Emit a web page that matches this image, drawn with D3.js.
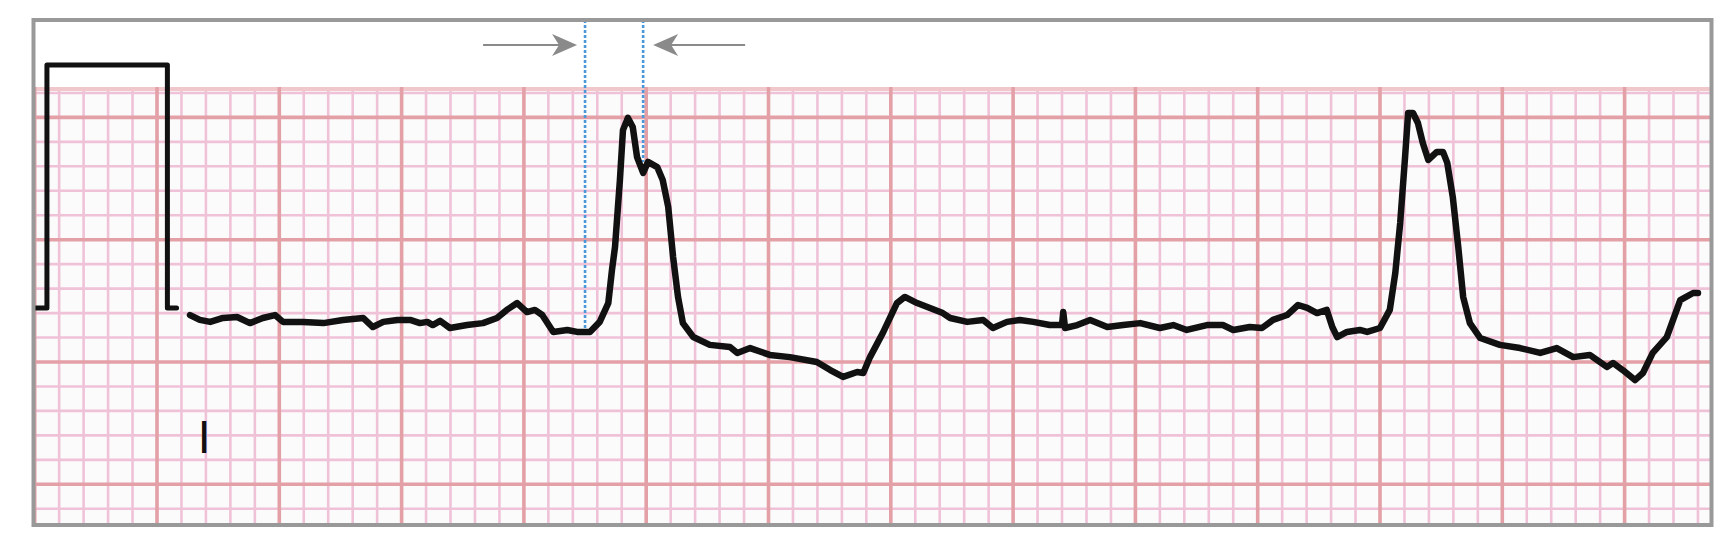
<!DOCTYPE html>
<html lang="en">
<head>
    <meta charset="UTF-8">
    <title>ECG strip, lead I</title>
    <script type="text/javascript" src="https://cdn.jsdelivr.net/npm/d3@7"></script>
    <style type="text/css">
        body { margin: 0; background: #fff; }
        svg { display: block; }
    </style>
</head>
<body>
    <script type="text/javascript">

        var w = 1735;
        var h = 542;

        // time in ms, amplitude in mV (25 mm/s, 10 mm/mV paper)
        var calTime = [2, 20, 20, 217, 217, 232];
        var calVolt = [0.221, 0.221, 1.214, 1.214, 0.221, 0.221];

        var traceTime = [254, 270, 287, 308, 331, 352, 373, 393, 406, 439,
                         472, 504, 537, 553, 570, 593, 614, 630, 642, 651,
                         663, 679, 707, 733, 756, 772, 789, 805, 818, 830,
                         848, 871, 887, 908, 924, 938, 944, 949,
                         957, 962, 970, 978,
                         985, 995, 1003, 1018, 1027, 1036, 1044, 1052, 1060, 1077,
                         1104, 1137, 1149, 1170, 1202, 1235, 1279, 1301, 1322, 1345,
                         1355, 1366, 1387, 1410, 1423, 1443, 1464, 1485, 1497, 1525,
                         1551, 1567, 1590, 1611, 1633, 1660, 1680, 1682, 1685, 1705,
                         1726, 1754, 1780, 1808, 1840, 1862, 1884, 1917, 1943, 1960,
                         1987, 2007, 2025, 2048, 2066, 2081, 2097, 2113, 2122, 2130,
                         2146, 2167, 2179, 2200, 2216, 2225, 2233, 2241, 2246, 2254,
                         2262, 2270, 2279, 2293, 2303, 2310, 2319, 2328, 2336, 2347,
                         2364, 2396, 2429, 2462, 2489, 2516, 2543, 2571, 2581, 2597,
                         2617, 2630, 2646, 2669, 2691, 2712, 2720];
        var traceVolt = [0.192, 0.172, 0.164, 0.180, 0.184, 0.159, 0.180, 0.192, 0.164, 0.164,
                         0.159, 0.172, 0.180, 0.143, 0.164, 0.172, 0.172, 0.159, 0.164, 0.151,
                         0.168, 0.139, 0.151, 0.159, 0.180, 0.213, 0.241, 0.204, 0.213, 0.192,
                         0.123, 0.131, 0.123, 0.123, 0.164, 0.241, 0.376, 0.470,
                         0.744, 0.948, 0.998, 0.961,
                         0.838, 0.773, 0.818, 0.797, 0.744, 0.634, 0.429, 0.266, 0.159, 0.102,
                         0.070, 0.061, 0.037, 0.057, 0.029, 0.020, 0.000, -0.033, -0.061, -0.041,
                         -0.045, 0.020, 0.119, 0.241, 0.266, 0.241, 0.221, 0.200, 0.180, 0.164,
                         0.172, 0.139, 0.164, 0.172, 0.164, 0.151, 0.151, 0.204, 0.139, 0.151,
                         0.172, 0.143, 0.151, 0.159, 0.139, 0.151, 0.131, 0.151, 0.151, 0.131,
                         0.143, 0.139, 0.172, 0.192, 0.233, 0.221, 0.200, 0.213, 0.143, 0.102,
                         0.123, 0.131, 0.123, 0.139, 0.213, 0.364, 0.568, 0.838, 1.018, 1.018,
                         0.977, 0.895, 0.826, 0.859, 0.859, 0.814, 0.675, 0.470, 0.266, 0.159,
                         0.098, 0.070, 0.057, 0.037, 0.057, 0.020, 0.029, -0.020, -0.004, -0.033,
                         -0.074, -0.045, 0.037, 0.102, 0.253, 0.282, 0.282];

        // caliper marks (ms) and lead name
        var caliperTimes = [900, 995];
        var caliperEnds = [0.123, 0.818];
        var leadName = "I";
        var leadPos = [277, -0.372];

        var frame = { x: 33.5, y: 20, w: 1678, h: 505 };
        var paperTop = 87;

        var x = d3.scaleLinear().domain([0, 1000]).range([34.7, 34.7 + 611.5]);
        var y = d3.scaleLinear().domain([0, 1]).range([362, 362 - 244.6]);

        var tMax = x.invert(frame.x + frame.w);
        var vMin = y.invert(frame.y + frame.h);
        var vMax = 1.1;

        var svg = d3.select("body")
                    .append("svg")
                    .attr("width", w)
                    .attr("height", h);

        svg.append("rect")
            .attr("width", w).attr("height", h)
            .attr("fill", "#ffffff");

        svg.append("rect")
            .attr("x", x(0)).attr("y", paperTop)
            .attr("width", frame.x + frame.w - x(0))
            .attr("height", frame.y + frame.h - paperTop)
            .attr("fill", "#fbfbfb");

        // small boxes every 40 ms / 0.1 mV, big every 200 ms / 0.5 mV
        var vTicks = d3.range(0, tMax, 40);
        var hTicks = d3.range(Math.ceil(vMin * 10), Math.round(vMax * 10) + 1).map(function(d) { return d / 10; });

        function isBigT(d) { return d % 200 === 0; }
        function isBigV(d) { return Math.abs(Math.round(d * 10)) % 5 === 0; }

        var grid = svg.append("g");

        grid.selectAll("line.thinv")
            .data(vTicks.filter(function(d) { return !isBigT(d); }))
            .enter().append("line")
            .attr("x1", function(d) { return x(d); })
            .attr("x2", function(d) { return x(d); })
            .attr("y1", paperTop).attr("y2", frame.y + frame.h)
            .attr("stroke", "#efc2d8").attr("stroke-width", 2.6);

        grid.selectAll("line.thinh")
            .data(hTicks.filter(function(d) { return !isBigV(d); }))
            .enter().append("line")
            .attr("x1", x(0)).attr("x2", frame.x + frame.w)
            .attr("y1", function(d) { return y(d); })
            .attr("y2", function(d) { return y(d); })
            .attr("stroke", "#efc2d8").attr("stroke-width", 2.6);

        grid.append("line")
            .attr("x1", x(0)).attr("x2", frame.x + frame.w)
            .attr("y1", paperTop + 2).attr("y2", paperTop + 2)
            .attr("stroke", "#f0c8cc").attr("stroke-width", 4);

        grid.selectAll("line.bigv")
            .data(vTicks.filter(isBigT))
            .enter().append("line")
            .attr("x1", function(d) { return x(d); })
            .attr("x2", function(d) { return x(d); })
            .attr("y1", paperTop).attr("y2", frame.y + frame.h)
            .attr("stroke", "#e3a0a6").attr("stroke-width", 3.6);

        grid.selectAll("line.bigh")
            .data(hTicks.filter(isBigV))
            .enter().append("line")
            .attr("x1", x(0)).attr("x2", frame.x + frame.w)
            .attr("y1", function(d) { return y(d); })
            .attr("y2", function(d) { return y(d); })
            .attr("stroke", "#e3a0a6").attr("stroke-width", 3.6);

        // calipers
        svg.selectAll("line.caliper")
            .data(caliperTimes)
            .enter().append("line")
            .attr("x1", function(d) { return x(d); })
            .attr("x2", function(d) { return x(d); })
            .attr("y1", frame.y)
            .attr("y2", function(d, i) { return y(caliperEnds[i]); })
            .attr("stroke", "#4a97da")
            .attr("stroke-width", 2.6)
            .attr("stroke-dasharray", "3,2");

        var arrowY = 45;
        var arrows = [
            { from: x(caliperTimes[0]) - 102, to: x(caliperTimes[0]) - 8 },
            { from: x(caliperTimes[1]) + 102, to: x(caliperTimes[1]) + 10 }
        ];

        svg.selectAll("line.arrow")
            .data(arrows)
            .enter().append("line")
            .attr("x1", function(d) { return d.from; })
            .attr("x2", function(d) { return d.to + (d.to > d.from ? -12 : 12); })
            .attr("y1", arrowY).attr("y2", arrowY)
            .attr("stroke", "#8a8a8a").attr("stroke-width", 2);

        svg.selectAll("path.arrowhead")
            .data(arrows)
            .enter().append("path")
            .attr("d", function(d) {
                var s = d.to > d.from ? 1 : -1;
                return "M" + d.to + "," + arrowY +
                       "L" + (d.to - s * 25) + "," + (arrowY - 11) +
                       "L" + (d.to - s * 18) + "," + arrowY +
                       "L" + (d.to - s * 25) + "," + (arrowY + 11) + "Z";
            })
            .attr("fill", "#8a8a8a");

        var line = d3.line()
            .x(function(d) { return x(d[0]); })
            .y(function(d) { return y(d[1]); });

        svg.append("path")
            .datum(d3.zip(calTime, calVolt))
            .attr("d", line)
            .attr("fill", "none")
            .attr("stroke", "#111")
            .attr("stroke-width", 5)
            .attr("stroke-linejoin", "round")
            .attr("stroke-linecap", "round");

        svg.append("path")
            .datum(d3.zip(traceTime, traceVolt))
            .attr("d", line)
            .attr("fill", "none")
            .attr("stroke", "#111")
            .attr("stroke-width", 6.5)
            .attr("stroke-linejoin", "round")
            .attr("stroke-linecap", "round");

        svg.append("text")
            .attr("x", x(leadPos[0]))
            .attr("y", y(leadPos[1]))
            .attr("text-anchor", "middle")
            .attr("font-family", "Liberation Sans, Arial, sans-serif")
            .attr("font-size", "46px")
            .attr("fill", "#111")
            .text(leadName);

        svg.append("rect")
            .attr("x", frame.x).attr("y", frame.y)
            .attr("width", frame.w).attr("height", frame.h)
            .attr("fill", "none")
            .attr("stroke", "#999999")
            .attr("stroke-width", 4);

    </script>
    </body>
</html>
